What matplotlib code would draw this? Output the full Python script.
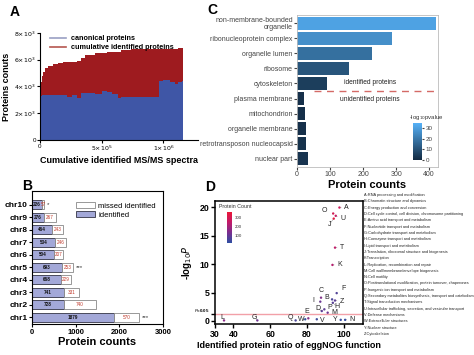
import numpy as np
import matplotlib
matplotlib.use("Agg")
import matplotlib.pyplot as plt
from matplotlib.colors import LinearSegmentedColormap, Normalize
from matplotlib.lines import Line2D

plt.rcParams['font.family'] = ['Liberation Sans', 'DejaVu Sans']
plt.rcParams['axes.linewidth'] = 0.8

# ---------------- data ----------------
# A: cumulative identification curve
spectra = [0, 1.3e4, 2.6e4, 4.0e4, 6.6e4, 1.05e5, 1.45e5, 1.84e5, 2.2e5, 2.6e5,
           3.0e5, 3.29e5, 3.68e5, 4.47e5, 5.0e5, 5.4e5, 5.8e5, 6.32e5, 6.6e5,
           7.37e5, 8.16e5, 8.9e5, 9.3e5, 9.6e5, 1.0e6, 1.05e6, 1.09e6, 1.12e6,
           1.15e6, 1.16e6]
cumulative_identified = [4300, 4750, 5100, 5350, 5500, 5650, 5750, 5800, 5850, 5850,
                         5880, 6150, 6350, 6500, 6520, 6550, 6570, 6600, 6750,
                         6780, 6800, 6820, 6820, 6830, 6830, 6840, 6840, 6850,
                         6850, 6850]
canonical = [3300, 3400, 3400, 3400, 3400, 3380, 3400, 3350, 3250, 3350,
             3150, 3500, 3500, 3450, 3700, 3600, 3450, 3150, 3200,
             3200, 3250, 3200, 3200, 4400, 4450, 4350, 4200, 4350,
             4400, 4400]

# B: proteins per chromosome
chromosomes = ['chr1', 'chr2', 'chr3', 'chr4', 'chr5', 'chr6', 'chr7', 'chr8', 'chr9', 'chr10']
chr_identified = [1879, 728, 741, 668, 693, 504, 534, 464, 276, 226]
chr_missed = [570, 740, 331, 229, 253, 207, 246, 243, 267, 57]
chr_stars = ['***', '', '', '', '***', '', '', '', '', '*']

# C: GO cellular component
go_terms = ['non-membrane-bounded\norganelle', 'ribonucleoprotein complex',
            'organelle lumen', 'ribosome', 'cytoskeleton', 'plasma membrane',
            'mitochondrion', 'organelle membrane', 'retrotransposon nucleocapsid',
            'nuclear part']
go_counts = [420, 288, 228, 157, 91, 21, 24, 26, 28, 33]
go_logp = [31, 26, 18, 11, 5, 1.5, 1.2, 1.5, 1.8, 2.5]

# D: eggNOG functional categories
cog_letters = ['A', 'B', 'C', 'D', 'E', 'F', 'G', 'H', 'I', 'J', 'K', 'L',
               'M', 'N', 'O', 'P', 'Q', 'T', 'U', 'V', 'W', 'Y', 'Z']
cog_ratio = [97.6, 93.6, 87.6, 88.0, 80.7, 96.1, 53.0, 94.0, 87.2, 94.5, 93.8, 34.9,
             91.2, 100.7, 94.2, 89.4, 73.8, 95.2, 95.6, 85.3, 79.0, 98.3, 95.2]
cog_logp = [19.95, 3.8, 4.1, 1.75, 0.47, 4.9, 0.1, 3.2, 3.4, 18.0, 9.86, 0.1,
            1.46, 0.2, 18.9, 2.05, 0.1, 12.9, 18.5, 0.3, 0.3, 0.2, 3.6]
cog_count = [280, 60, 150, 90, 160, 70, 120, 80, 110, 340, 230, 160,
             120, 30, 300, 90, 60, 250, 260, 40, 20, 30, 90]
cog_names = ['RNA processing and modification', 'Chromatin structure and dynamics',
             'Energy production and conversion',
             'Cell cycle control, cell division, chromosome partitioning',
             'Amino acid transport and metabolism', 'Nucleotide transport and metabolism',
             'Carbohydrate transport and metabolism', 'Coenzyme transport and metabolism',
             'Lipid transport and metabolism', 'Translation, ribosomal structure and biogenesis',
             'Transcription', 'Replication, recombination and repair',
             'Cell wall/membrane/envelope biogenesis', 'Cell motility',
             'Posttranslational modification, protein turnover, chaperones',
             'Inorganic ion transport and metabolism',
             'Secondary metabolites biosynthesis, transport and catabolism',
             'Signal transduction mechanisms',
             'Intracellular trafficking, secretion, and vesicular transport',
             'Defense mechanisms', 'Extracellular structures', 'Nuclear structure',
             'Cytoskeleton']
# label offsets (points) for the repelled letters
label_offsets = {'A': (5, 0), 'B': (-4, 1), 'C': (0, 5), 'D': (-3, 2), 'E': (-1, 5),
                 'F': (5, 3), 'G': (-2, 2), 'H': (3, -3), 'I': (-5, 1), 'J': (-3, -4),
                 'K': (5, 0), 'L': (-1, 2), 'M': (5, 0), 'N': (5, 0), 'O': (-6, 2),
                 'P': (4, 1), 'Q': (-4, 2), 'T': (5, 0), 'U': (5, -2), 'V': (4, -1),
                 'W': (-3, 0), 'Y': (-4, 0), 'Z': (5, -1)}

W, H = 474, 355
fig = plt.figure(figsize=(W / 100, H / 100), dpi=100)


def px_axes(x0, y0, x1, y1):
    return fig.add_axes([x0 / W, 1 - y1 / H, (x1 - x0) / W, (y1 - y0) / H])


# ---------------- A ----------------
red_a = '#9e1b1f'
blue_a = '#3f56a6'
ax = px_axes(40, 33, 198, 140)
ax.fill_between(spectra, cumulative_identified, step='post', color=red_a, lw=0)
ax.fill_between(spectra, canonical, step='post', color=blue_a, lw=0)
ax.set_xlim(0, 1.28e6)
ax.set_ylim(0, 8000)
ax.spines[['top', 'right']].set_visible(False)
ax.set_yticks([0, 2000, 4000, 6000, 8000],
              ['0', r'$2{\times}10^3$', r'$4{\times}10^3$', r'$6{\times}10^3$', r'$8{\times}10^3$'])
ax.set_xticks([0, 5e5, 1e6], ['0', r'$5{\times}10^5$', r'$1{\times}10^6$'])
ax.tick_params(labelsize=4.5, length=2, width=0.8, pad=1)
ax.set_xlabel('Cumulative identified MS/MS spectra', fontsize=6.5, fontweight='bold', labelpad=2)
ax.set_ylabel('Proteins conuts', fontsize=6.5, fontweight='bold', labelpad=2)
ax.legend(handles=[Line2D([], [], color='#9aa0c4', lw=1.2),
                   Line2D([], [], color='#b5564f', lw=1.2)],
          labels=['canonical proteins', 'cumulative identified proteins'],
          loc='upper left', bbox_to_anchor=(0.02, 1.04), frameon=False,
          prop={'size': 5.2, 'weight': 'bold'}, handlelength=2.2, labelspacing=0.3)
fig.text(10 / W, 1 - 12 / H, 'A', fontsize=10, fontweight='bold', va='center')

# ---------------- B ----------------
ax = px_axes(32, 191, 163, 324)
y = np.arange(len(chromosomes))
ax.barh(y, chr_identified, height=0.72, color='#a3a8d8', edgecolor='#333344', lw=0.6,
        label='identified')
ax.barh(y, chr_missed, left=chr_identified, height=0.72, color='white',
        edgecolor='#888888', lw=0.6, label='missed identified')
for i in range(len(chromosomes)):
    ax.text(chr_identified[i] / 2, i, str(chr_identified[i]), fontsize=3.3,
            fontweight='bold', ha='center', va='center', color='#111111')
    ax.text(chr_identified[i] + chr_missed[i] / 2, i, str(chr_missed[i]), fontsize=3.3,
            ha='center', va='center', color='#c0392b')
    if chr_stars[i]:
        ax.text(chr_identified[i] + chr_missed[i] + 60, i, chr_stars[i], fontsize=4.5,
                ha='left', va='center', color='#333333')
ax.set_ylim(-0.55, 10.1)
ax.set_xlim(0, 3000)
ax.set_yticks(y, chromosomes)
ax.set_xticks([0, 1000, 2000, 3000])
ax.tick_params(axis='y', labelsize=6, length=2, pad=1)
ax.tick_params(axis='x', labelsize=5.5, length=2, pad=1.5)
for lab in ax.get_yticklabels():
    lab.set_fontweight('bold')
for lab in ax.get_xticklabels():
    lab.set_fontweight('bold')
ax.set_xlabel('Protein counts', fontsize=8, fontweight='bold', labelpad=1)
h, l = ax.get_legend_handles_labels()
ax.legend([h[1], h[0]], [l[1], l[0]], loc='upper right', bbox_to_anchor=(1.0, 0.97),
          frameon=False, fontsize=5.5, handlelength=2.6, handleheight=0.9,
          labelspacing=0.15, handletextpad=0.4)
fig.text(22 / W, 1 - 186 / H, 'B', fontsize=10, fontweight='bold', va='center')

# ---------------- C ----------------
gg_blue = LinearSegmentedColormap.from_list('gg', ['#132B43', '#56B1F7'])
norm_c = Normalize(0, 35)
ax = px_axes(297, 15, 438, 167)
yc = np.arange(len(go_terms))
ax.barh(yc, go_counts, height=0.85, color=gg_blue(norm_c(go_logp)))
ax.set_ylim(9.55, -0.55)
ax.set_xlim(0, 427)
ax.set_yticks(yc, go_terms)
ax.set_xticks([0, 100, 200, 300, 400])
ax.tick_params(axis='y', labelsize=5, length=2, pad=1, colors='#444444')
ax.tick_params(axis='x', labelsize=5, length=2, pad=1, colors='#444444')
for lab in ax.get_yticklabels():
    lab.set_linespacing(0.9)
for s in ax.spines.values():
    s.set_color('#bbbbbb')
    s.set_linewidth(0.6)
ax.axhline(4.5, xmin=50 / 427, xmax=1, color='#d46a66', lw=1.0, ls=(0, (5, 4)))
ax.text(221, 4.2, 'identified proteins', fontsize=4.8, ha='center', va='bottom', color='#222222')
ax.text(221, 4.8, 'unidentified proteins', fontsize=4.8, ha='center', va='top', color='#222222')
ax.set_xlabel('Protein counts', fontsize=8, fontweight='bold', labelpad=1)
fig.text(207 / W, 1 - 10 / H, 'C', fontsize=10, fontweight='bold', va='center')

cax = px_axes(413, 123, 422, 160)
grad = np.linspace(0, 35, 100).reshape(-1, 1)
cax.imshow(grad, aspect='auto', origin='lower', cmap=gg_blue, norm=norm_c, extent=[0, 1, 0, 35])
cax.set_xticks([])
cax.yaxis.tick_right()
cax.set_yticks([0, 10, 20, 30])
cax.tick_params(labelsize=4.5, length=1.5, pad=1, colors='#444444')
for s in cax.spines.values():
    s.set_visible(False)
fig.text(409 / W, 1 - 118 / H, r'-log$_{10}$pvalue', fontsize=4.3, color='#333333', va='center')

# ---------------- D ----------------
rb = LinearSegmentedColormap.from_list('rb', ['#2f4fa2', '#7a2f90', '#c21a6a', '#ea1838'])
norm_d = Normalize(20, 360)
ax = px_axes(215, 201, 363, 324)
ax.axhline(1.3, color='#f2a0a8', lw=1.0, zorder=1)
ax.scatter(cog_ratio, cog_logp, c=cog_count, cmap=rb, norm=norm_d, s=3, zorder=3, lw=0)
for i, letter in enumerate(cog_letters):
    dx, dy = label_offsets[letter]
    ax.annotate(letter, (cog_ratio[i], cog_logp[i]), xytext=(dx, dy),
                textcoords='offset points', fontsize=5, ha='center', va='center',
                color='#222222',
                arrowprops=dict(arrowstyle='-', lw=0.3, color='#777777', shrinkA=1.5, shrinkB=0.5))
ax.set_xlim(30, 110.4)
ax.set_ylim(-0.53, 21.1)
ax.set_xticks([30, 40, 60, 80, 100])
ax.set_yticks([0, 1.3, 5, 10, 15, 20], ['0', r'$P$=0.05', '5', '10', '15', '20'])
ax.tick_params(axis='x', labelsize=6.3, length=3, width=1, pad=1)
ax.tick_params(axis='y', labelsize=6.3, length=3, width=1, pad=1)
ax.get_yticklabels()[1].set_fontsize(3.2)
ax.get_yticklabels()[1].set_va('bottom')
for lab in ax.get_xticklabels() + ax.get_yticklabels():
    lab.set_fontweight('bold')
for s in ax.spines.values():
    s.set_linewidth(1.1)
ax.set_xlabel('Identified protein ratio of eggNOG function', fontsize=6.5,
              fontweight='bold', labelpad=2)
ax.set_ylabel(r'-log$_{10}$$P$', fontsize=7, fontweight='bold', labelpad=0)
fig.text(205 / W, 1 - 187 / H, 'D', fontsize=10, fontweight='bold', va='center')

dax = px_axes(227, 212, 232, 243)
grad = np.linspace(20, 360, 100).reshape(-1, 1)
dax.imshow(grad, aspect='auto', origin='lower', cmap=rb, norm=norm_d, extent=[0, 1, 20, 360])
dax.set_xticks([])
dax.yaxis.tick_right()
dax.set_yticks([100, 200, 300])
dax.tick_params(labelsize=3.2, length=0, pad=2, colors='#333333')
for s in dax.spines.values():
    s.set_visible(False)
fig.text(219 / W, 1 - 207 / H, 'Protein Count', fontsize=3.8, color='#333333', va='center')

for i, letter in enumerate(cog_letters):
    fig.text(364 / W, 1 - (195 + i * 6.32) / H, letter + ':' + cog_names[i],
             fontsize=2.8, va='center', color='#222222')

fig.savefig('out.png', dpi=100)
